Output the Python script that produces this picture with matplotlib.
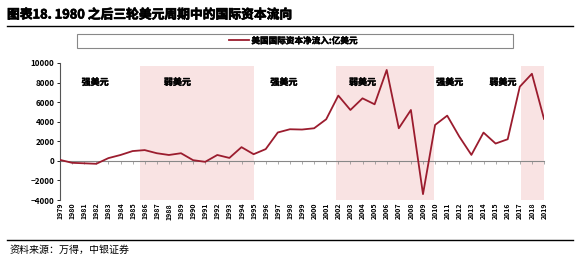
import numpy as np
import matplotlib.pyplot as plt
import matplotlib.patheffects as pe
from matplotlib.patches import Rectangle
from matplotlib.lines import Line2D

plt.rcParams['font.family'] = ['Noto Sans CJK SC', 'DejaVu Sans']

# -----------------------------
# data
# -----------------------------
years = list(range(1979, 2020))
net_inflow = [100, -200, -250, -300, 280, 600, 1000, 1100, 780, 600,
              780, 70, -100, 600, 300, 1400, 680, 1200, 2900, 3230,
              3200, 3330, 4250, 6670, 5200, 6390, 5780, 9290, 3330, 5200,
              -3400, 3670, 4620, 2480, 610, 2890, 1770, 2210, 7580, 8900,
              4290]

# weak-dollar periods (shaded) and the period labels
weak_spans = [(1985.6, 1995.0), (2001.8, 2009.9), (2017.1, 2019.0)]
label_texts = ["强美元", "弱美元", "强美元", "弱美元", "强美元", "弱美元"]
label_years = [1981.9, 1988.7, 1997.5, 2004.0, 2011.2, 2015.6]

title = "图表18. 1980 之后三轮美元周期中的国际资本流向"
legend_label = "美国国际资本净流入:亿美元"
source = "资料来源：万得，中银证券"

line_color = "#9b1c2e"
shade_color = "#f9e3e3"

# fake heavier weight for the CJK glyphs
bold_fx = [pe.withStroke(linewidth=0.5, foreground="black")]
small_fx = [pe.withStroke(linewidth=0.3, foreground="black")]

# -----------------------------
# figure
# -----------------------------
fig = plt.figure(figsize=(5.81, 2.64), dpi=100)
ax = fig.add_axes([60 / 581, 1 - 200 / 264, 484 / 581, 137 / 264])

for x0, x1 in weak_spans:
    ax.fill_between([x0, x1], -4000, 9700, color=shade_color, lw=0, zorder=0)

ax.plot(years, net_inflow, color=line_color, lw=1.3, zorder=3)

for txt, yr in zip(label_texts, label_years):
    ax.text(yr, 8000, txt, ha="center", va="center", fontsize=6.5,
            fontweight="bold", zorder=4, path_effects=small_fx)

ax.set_xlim(1979, 2019)
ax.set_ylim(-4000, 10000)
ax.set_yticks(np.arange(-4000, 10001, 2000))
ax.tick_params(axis="y", labelsize=5.8, length=2, width=0.6, pad=2)
for lab in ax.get_yticklabels():
    lab.set_fontweight("bold")

ax.set_xticks(years)
ax.set_xticklabels([str(y) for y in years], rotation=90, fontsize=5,
                   fontweight="bold")
ax.tick_params(axis="x", length=0, pad=2)

for s in ["top", "right", "bottom"]:
    ax.spines[s].set_visible(False)
ax.spines["left"].set_color("#555555")
ax.spines["left"].set_linewidth(0.8)

# zero line with small tick marks (Excel-style axis at 0, labels low)
zero_pos = (0 - (-4000)) / (10000 - (-4000))
sec = ax.secondary_xaxis(zero_pos)
sec.set_xticks(years)
sec.set_xticklabels([])
sec.tick_params(axis="x", length=2, width=0.5, color="#888888")
sec.spines["bottom"].set_color("#888888")
sec.spines["bottom"].set_linewidth(0.8)

# legend in a box above the plot
fig.patches.append(Rectangle((77 / 581, 1 - 48 / 264), 436 / 581, 14 / 264,
                             transform=fig.transFigure, fill=False,
                             edgecolor="#888888", lw=0.8))
handle = Line2D([], [], color=line_color, lw=1.3)
leg = fig.legend([handle], [legend_label], loc="center",
                 bbox_to_anchor=(0.505, 1 - 41 / 264), frameon=False,
                 prop={"size": 6.2, "weight": "bold"}, handlelength=2.3,
                 handletextpad=0.3, borderpad=0)
for t in leg.get_texts():
    t.set_path_effects(small_fx)

# title, rules and source
fig.text(7 / 581, 1 - 15 / 264, title, fontsize=9.2, fontweight="bold",
         ha="left", va="center", path_effects=bold_fx)
fig.add_artist(Line2D([7 / 581, 573 / 581], [1 - 25.5 / 264] * 2,
                      color="black", lw=1.0, transform=fig.transFigure))
fig.add_artist(Line2D([7 / 581, 573 / 581], [1 - 240 / 264] * 2,
                      color="black", lw=1.0, transform=fig.transFigure))
fig.text(10 / 581, 1 - 250 / 264, source, fontsize=7.2, style="italic",
         ha="left", va="center")

fig.savefig("out.png", dpi=100)
